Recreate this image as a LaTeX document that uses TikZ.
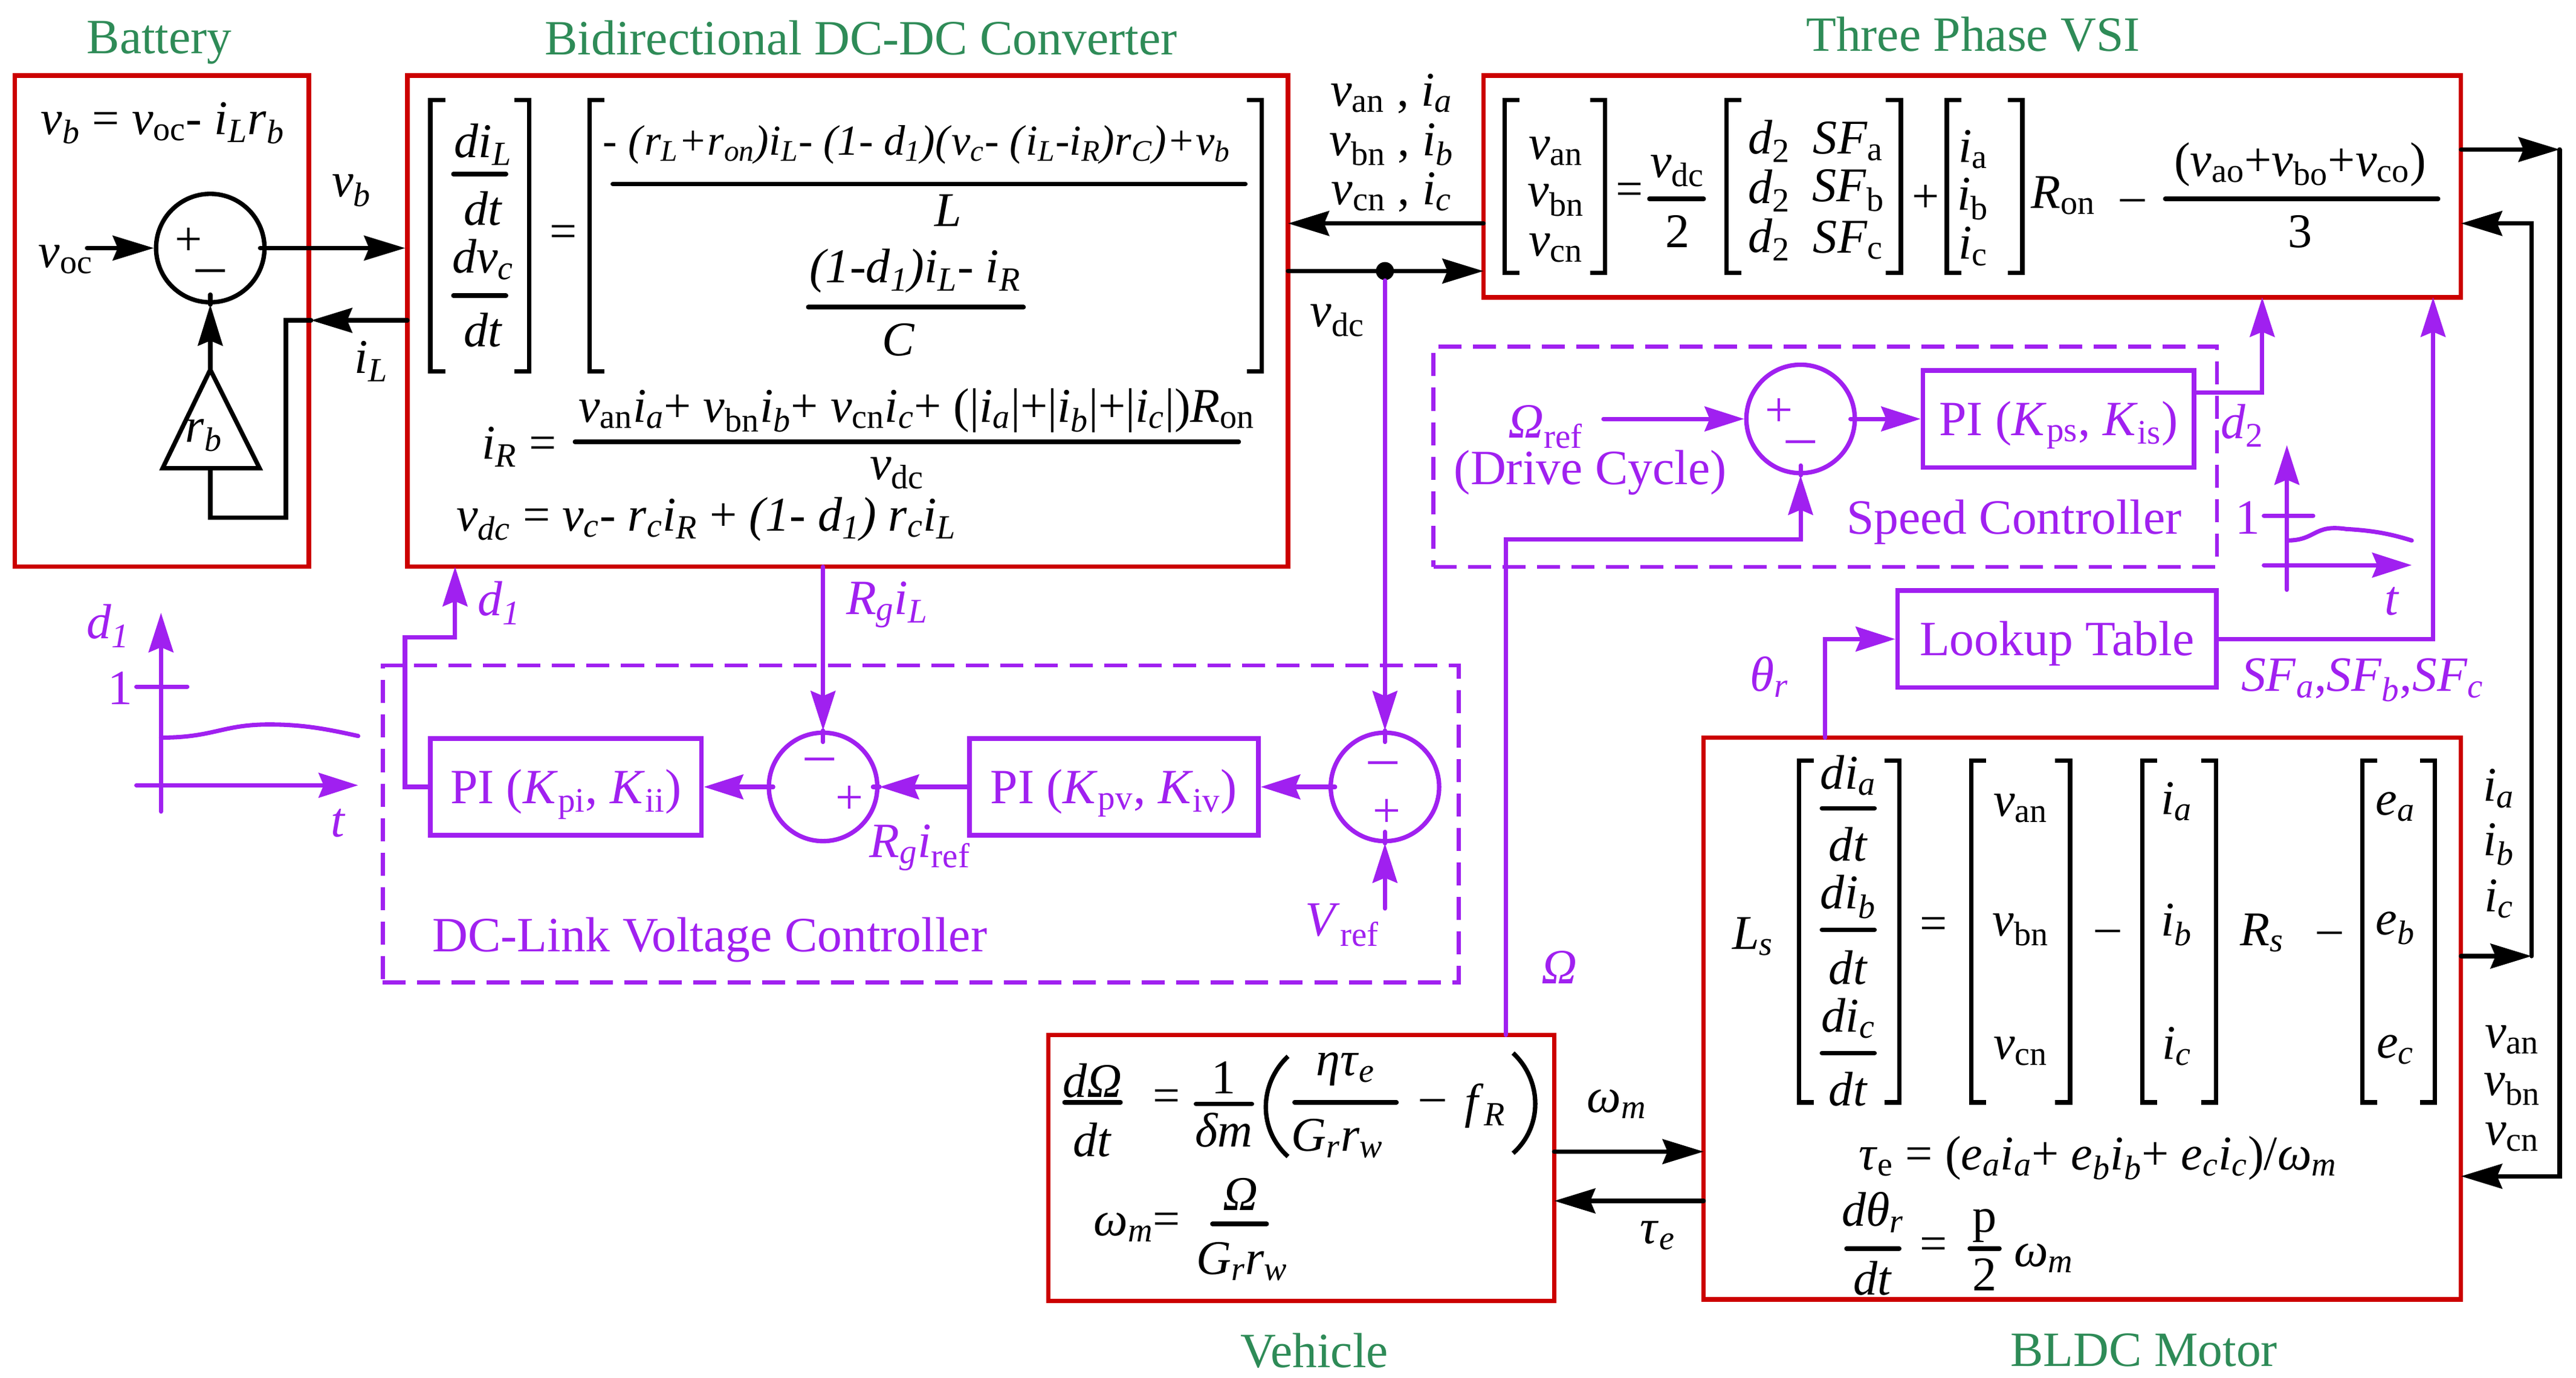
\documentclass[tikz,border=0pt]{standalone}
\usepackage{fontspec}
\setmainfont{Liberation Serif}
\usetikzlibrary{arrows.meta,positioning,calc}
\definecolor{boxred}{HTML}{CC0000}
\definecolor{ctrlpurple}{HTML}{A020F0}
\definecolor{titlegreen}{HTML}{2E8B57}
\tikzset{
  font={\fontsize{30pt}{32}\selectfont}}
% italic letter with italic or upright subscript
\newcommand{\isub}[2]{\textit{#1}\textsubscript{\textit{#2}}}
\newcommand{\rsub}[2]{\textit{#1}\textsubscript{#2}}
% plus and minus of a summing circle
\newcommand{\plusminus}{+\kern-4pt\raisebox{-17.8pt}{\fontsize{35pt}{36}\selectfont –}}
% text of a purple block, baseline below the centre of the block
\newcommand{\blocktext}[1]{\raisebox{-10pt}[0pt][0pt]{\textcolor{ctrlpurple}{#1}}}
% x1, x2, y1, y2 of a pair of matrix brackets
\newcommand{\brk}[4]{
  \draw[brk_line] (#1+9,#3) -- (#1,#3) -- (#1,#4) -- (#1+9,#4);
  \draw[brk_line] (#2-9,#3) -- (#2,#3) -- (#2,#4) -- (#2-9,#4);}

\begin{document}
\begin{tikzpicture}[x=1pt,y=-1pt,
    block_red/.style ={rectangle, draw=boxred, line width=2.7pt, fill=none, inner sep=0pt},
    block_purple/.style ={rectangle, draw=ctrlpurple, line width=2.8pt, fill=none, inner sep=0pt,
      text=ctrlpurple, minimum height=59pt},
    block_dash/.style ={rectangle, draw=ctrlpurple, line width=2.4pt, fill=none, inner sep=0pt,
      dash pattern=on 14pt off 7pt},
    sum_black/.style ={circle, draw=black, line width=2.7pt, minimum size=66pt, inner sep=0pt},
    sum_purple/.style ={circle, draw=ctrlpurple, line width=2.7pt, minimum size=66pt, inner sep=0pt},
    lab/.style ={inner sep=0pt, text=black, font={\fontsize{29.5pt}{32}\selectfont}},
    lab_small/.style ={inner sep=0pt, text=black, font={\fontsize{26pt}{28}\selectfont}},
    lab_purple/.style ={inner sep=0pt, text=ctrlpurple},
    lab_title/.style ={inner sep=0pt, text=titlegreen},
    sign_purple/.style ={inner sep=0pt, text=ctrlpurple, font={\fontsize{35pt}{36}\selectfont}},
    frac_bar/.style ={draw=black, line width=2.8pt, line cap=round},
    brk_line/.style ={draw=black, line width=2.7pt},
    paths2/.style={black, draw, line width=2.7pt, line cap=round,
      arrows={-Stealth[length=25pt, width=15pt, inset=3pt, black]}},
    paths3/.style={ctrlpurple, draw, line width=2.6pt, line cap=round,
      arrows={-Stealth[length=24pt, width=15pt, inset=3pt, ctrlpurple]}},
    wire_black/.style={black, draw, line width=2.7pt, line cap=round},
    wire_purple/.style={ctrlpurple, draw, line width=2.6pt, line cap=round}]
    \useasboundingbox (0,0) rectangle (1568,838.8);
    % titles
    \node[lab_title] (t_batt) at (97,26) {Battery};
    \node[lab_title] (t_conv) at (524,23) {Bidirectional DC-DC Converter};
    \node[lab_title] (t_vsi) at (1201,21) {Three Phase VSI};
    \node[lab_title] (t_veh) at (800,822) {Vehicle};
    \node[lab_title] (t_mot) at (1305,822) {BLDC Motor};
    % red blocks
    \node[block_red, minimum width=179pt, minimum height=299pt] (batt) at (98.5,195.5) {};
    \node[block_red, minimum width=536pt, minimum height=299pt] (conv) at (516,195.5) {};
    \node[block_red, minimum width=595pt, minimum height=135pt] (vsi) at (1200.5,113.5) {};
    \node[block_red, minimum width=308pt, minimum height=162pt] (veh) at (792,711) {};
    \node[block_red, minimum width=461pt, minimum height=342pt] (mot) at (1267.5,620) {};
    % battery
    \node[lab] (eq_vb) at (99,75) {\isub{v}{b} = \rsub{v}{oc}- \isub{i}{L}\isub{r}{b}};
    \node[sum_black] (sum0) at (128,151) {};
    \node[lab] (sum0_s) at (121.7,156) {\plusminus};
    \node[lab] (l_voc) at (40,158) {\rsub{v}{oc}};
    \coordinate (voc_in) at (53,151);
    \node[lab] (l_vb) at (214,116) {\isub{v}{b}};
    \node[lab] (l_il) at (226,220) {\isub{i}{L}};
    \coordinate (tri_top) at (128,225);
    \coordinate (tri_base) at (128,285);
    \draw[wire_black] (tri_top) -- (158,285) -- (99,285) -- cycle;
    \node[lab] (l_rb) at (124,265) {\isub{r}{b}};
    \coordinate (conv_vb) at (conv.west |- sum0.east);
    \coordinate (conv_il) at (248,195);
    \coordinate (il_turn) at (174,195);
    \coordinate (il_low) at (128,315);
    % converter
    \brk{262}{322}{61}{226}
    \node[lab] (c_di) at (294,88) {\textit{d}\isub{i}{L}};
    \draw[frac_bar] (276,106) -- (308,106);
    \node[lab] (c_dt1) at (294,127) {\textit{dt}};
    \node[lab] (c_dv) at (294,158) {\textit{d}\isub{v}{c}};
    \draw[frac_bar] (276,180) -- (308,180);
    \node[lab] (c_dt2) at (294,201) {\textit{dt}};
    \node[lab] (c_eq1) at (343,144) {=};
    \brk{359}{768}{61}{226}
    \node[lab_small] (c_n1) at (558,88) {\textit{- (}\isub{r}{L}\textit{+}\isub{r}{on}\textit{)}\isub{i}{L}\textit{- (1- }\isub{d}{1}\textit{)(}\isub{v}{c}\textit{- (}\isub{i}{L}\textit{-}\isub{i}{R}\textit{)}\isub{r}{C}\textit{)+}\isub{v}{b}};
    \draw[frac_bar] (373,112) -- (758,112);
    \node[lab] (c_l) at (577,128) {\textit{L}};
    \node[lab] (c_n2) at (557,165) {\textit{(1-}\isub{d}{1}\textit{)}\isub{i}{L}\textit{- }\isub{i}{R}};
    \draw[frac_bar] (492,187) -- (623,187);
    \node[lab] (c_c) at (547,207) {\textit{C}};
    \node[lab] (c_ir) at (316,272) {\isub{i}{R} =};
    \node[lab] (c_n3) at (558,250) {\rsub{v}{an}\isub{i}{a}+ \rsub{v}{bn}\isub{i}{b}+ \rsub{v}{cn}\isub{i}{c}+ (|\isub{i}{a}|+|\isub{i}{b}|+|\isub{i}{c}|)\rsub{R}{on}};
    \draw[frac_bar] (350,269) -- (754,269);
    \node[lab] (c_vdc) at (546,288) {\rsub{v}{dc}};
    \node[lab] (c_row) at (430,316) {\isub{v}{dc} = \isub{v}{c}- \isub{r}{c}\isub{i}{R} + \textit{(1- }\isub{d}{1}\textit{)} \isub{r}{c}\isub{i}{L}};
    % between converter and VSI
    \node[lab] (l_1) at (847,57) {\rsub{v}{an} , \isub{i}{a}};
    \node[lab] (l_2) at (847,88) {\rsub{v}{bn} , \isub{i}{b}};
    \node[lab] (l_3) at (847,117) {\rsub{v}{cn} , \isub{i}{c}};
    \node[lab] (l_vdc) at (814,195) {\rsub{v}{dc}};
    \coordinate (vsi_v) at (903,136);
    \coordinate (conv_v) at (784,136);
    \coordinate (conv_d) at (784,165);
    \coordinate (vsi_d) at (903,165);
    \node[circle, fill=black, inner sep=0pt, minimum size=11pt] (dot) at (843,165) {};
    % VSI
    \brk{916}{977}{61}{166}
    \node[lab] (v_1) at (947,92) {\rsub{v}{an}};
    \node[lab] (v_2) at (947,122) {\rsub{v}{bn}};
    \node[lab] (v_3) at (947,151) {\rsub{v}{cn}};
    \node[lab] (v_eq) at (992,118) {=};
    \node[lab] (v_vdc) at (1021,104) {\rsub{v}{dc}};
    \draw[frac_bar] (1004,121) -- (1037,121);
    \node[lab] (v_two) at (1021,141) {2};
    \brk{1051}{1157}{61}{166}
    \node[lab] (v_d1) at (1077,86) {\rsub{d}{2}};
    \node[lab] (v_d2) at (1077,116) {\rsub{d}{2}};
    \node[lab] (v_d3) at (1077,146) {\rsub{d}{2}};
    \node[lab] (v_s1) at (1125,86) {\rsub{SF}{a}};
    \node[lab] (v_s2) at (1125,116) {\rsub{SF}{b}};
    \node[lab] (v_s3) at (1125,146) {\rsub{SF}{c}};
    \node[lab] (v_pl) at (1172,121) {+};
    \brk{1185}{1231}{61}{166}
    \node[lab] (v_ia) at (1201,91) {\rsub{i}{a}};
    \node[lab] (v_ib) at (1201,121) {\rsub{i}{b}};
    \node[lab] (v_ic) at (1201,150) {\rsub{i}{c}};
    \node[lab] (v_r) at (1256,119) {\rsub{R}{on}};
    \node[lab] (v_mi) at (1298,125) {–};
    \node[lab] (v_n) at (1400,100) {(\rsub{v}{ao}+\rsub{v}{bo}+\rsub{v}{co})};
    \draw[frac_bar] (1318,121) -- (1484,121);
    \node[lab] (v_three) at (1400,141) {3};
    % speed controller
    \node[block_dash, minimum width=477pt, minimum height=134pt] (spd_box) at (1111,278) {};
    \node[sum_purple] (sum3) at (1096,255) {};
    \node[lab_purple] (sum3_s) at (1089.7,260) {\plusminus};
    \node[block_purple, minimum width=165pt] (pi_s) at (1253,255) {\blocktext{PI (\rsub{K}{ps}, \rsub{K}{is})}};
    \node[lab_purple, align=left, font={\fontsize{30pt}{25}\selectfont}] (l_wref) at (968,274) {\hspace{33pt}\rsub{Ω}{ref}\\(Drive Cycle)};
    \coordinate (wref_in) at (976,255);
    \node[lab_purple] (l_spd) at (1226,318) {Speed Controller};
    \node[lab_purple] (l_d2) at (1365,259) {\rsub{d}{2}};
    \coordinate (pi_s_out) at (pi_s.east |- 0,239);
    \coordinate (vsi_d2) at (1377,181);
    % d2 axes
    \coordinate (ax2_b) at (1392,359);
    \coordinate (ax2_t) at (1392,271);
    \coordinate (ax2_l) at (1378,344);
    \coordinate (ax2_r) at (1468,344);
    \node[lab_purple] (l_one2) at (1368,315) {1};
    \draw[wire_purple] (1378,314) -- (1408,314);
    \draw[wire_purple] (1392,329) .. controls (1410,329) and (1408,319) .. (1428,322) .. controls (1445,323) and (1455,325) .. (1468,329);
    \node[lab_purple] (l_t2) at (1456,366) {\textit{t}};
    % lookup table
    \node[block_purple, minimum width=194pt] (look) at (1252,389) {\blocktext{Lookup Table}};
    \node[lab_purple] (l_th) at (1077,412) {\isub{θ}{r}};
    \node[lab_purple] (l_sf) at (1438,414) {\isub{SF}{a},\isub{SF}{b},\isub{SF}{c}};
    \coordinate (vsi_sf) at (1481,181);
    \coordinate (mot_th) at (1111,449);
    % DC-link controller
    \node[block_dash, minimum width=655pt, minimum height=193pt] (dc_box) at (560.5,501.5) {};
    \node[sum_purple] (sum1) at (501,479) {};
    \node[sign_purple] (sum1_m) at (499,466) {–};
    \node[lab_purple] (sum1_p) at (517,487) {+};
    \node[sum_purple] (sum2) at (843,479) {};
    \node[sign_purple] (sum2_m) at (842,468) {–};
    \node[lab_purple] (sum2_p) at (844,495) {+};
    \node[block_purple, minimum width=165pt] (pi_i) at (344.5,479) {\blocktext{PI (\rsub{K}{pi}, \rsub{K}{ii})}};
    \node[block_purple, minimum width=176pt] (pi_v) at (678,479) {\blocktext{PI (\rsub{K}{pv}, \rsub{K}{iv})}};
    \node[lab_purple] (l_rgil) at (540,368) {\isub{R}{g}\isub{i}{L}};
    \node[lab_purple] (l_rgir) at (560,516) {\isub{R}{g}\rsub{i}{ref}};
    \node[lab_purple] (l_vref) at (817,563) {\rsub{V}{ref}};
    \coordinate (vref_in) at (843,553);
    \coordinate (conv_ril) at (501,345);
    \node[lab_purple] (l_dcl) at (432,572) {DC-Link Voltage Controller};
    \node[lab_purple] (l_d1) at (304,367) {\isub{d}{1}};
    \coordinate (d1_a) at (246.5,388);
    \coordinate (d1_b) at (277,345);
    % d1 axes
    \coordinate (ax1_b) at (98,494);
    \coordinate (ax1_t) at (98,373);
    \coordinate (ax1_l) at (83,478);
    \coordinate (ax1_r) at (218,478);
    \node[lab_purple] (l_d1a) at (66,381) {\isub{d}{1}};
    \node[lab_purple] (l_one1) at (73,419) {1};
    \draw[wire_purple] (83,418) -- (114,418);
    \draw[wire_purple] (98,449) .. controls (130,449) and (135,441) .. (164,441) .. controls (185,441) and (200,444) .. (218,448);
    \node[lab_purple] (l_t1) at (206,501) {\textit{t}};
    % vehicle
    \node[lab] (h_dw) at (665,658) {\textit{d}\textit{Ω}};
    \draw[frac_bar] (648,671) -- (682,671);
    \node[lab] (h_dt) at (665,694) {\textit{dt}};
    \node[lab] (h_eq) at (710,670) {=};
    \node[lab] (h_one) at (745,656) {1};
    \draw[frac_bar] (728,672) -- (762,672);
    \node[lab] (h_dm) at (745,688) {\textit{δm}};
    \draw[brk_line] (784,643) .. controls (766,660) and (766,688) .. (784,704);
    \node[lab] (h_n) at (819,651) {\textit{ητ}\textsubscript{\textit{e}}};
    \draw[frac_bar] (788,671) -- (850,671);
    \node[lab] (h_d) at (814,693) {\isub{G}{r}\isub{r}{w}};
    \node[lab] (h_mi) at (872,673) {–};
    \node[lab] (h_f) at (904,673) {\isub{f}{R}};
    \draw[brk_line] (921,641) .. controls (939,658) and (939,686) .. (921,702);
    \node[lab] (h_w) at (684,747) {\isub{ω}{m}};
    \node[lab] (h_eq2) at (710,745) {=};
    \node[lab] (h_om) at (755,727) {\textit{Ω}};
    \draw[frac_bar] (738,745) -- (771,745);
    \node[lab] (h_d2) at (756,768) {\isub{G}{r}\isub{r}{w}};
    \node[lab_purple] (l_om) at (949,589) {\textit{Ω}};
    \node[lab] (l_wm) at (984,672) {\isub{ω}{m}};
    \node[lab] (l_te) at (1009,752) {\isub{τ}{e}};
    \coordinate (veh_w) at (946,701);
    \coordinate (mot_w) at (1037,701);
    \coordinate (veh_t) at (946,731);
    \coordinate (mot_t) at (1037,731);
    \coordinate (veh_om) at (916.5,630);
    \coordinate (om_turn) at (1096,328.5);
    % motor
    \node[lab] (m_ls) at (1067,570) {\isub{L}{s}};
    \brk{1095}{1156}{463}{671}
    \node[lab] (m_a) at (1125,472) {\textit{d}\isub{i}{a}};
    \draw[frac_bar] (1109,492) -- (1141,492);
    \node[lab] (m_t1) at (1125,514) {\textit{dt}};
    \node[lab] (m_b) at (1125,546) {\textit{d}\isub{i}{b}};
    \draw[frac_bar] (1109,566) -- (1141,566);
    \node[lab] (m_t2) at (1125,589) {\textit{dt}};
    \node[lab] (m_c) at (1125,620) {\textit{d}\isub{i}{c}};
    \draw[frac_bar] (1109,641) -- (1141,641);
    \node[lab] (m_t3) at (1125,663) {\textit{dt}};
    \node[lab] (m_eq) at (1177,565) {=};
    \brk{1200}{1260}{463}{671}
    \node[lab] (m_v1) at (1230,492) {\rsub{v}{an}};
    \node[lab] (m_v2) at (1230,566) {\rsub{v}{bn}};
    \node[lab] (m_v3) at (1230,640) {\rsub{v}{cn}};
    \node[lab] (m_mi) at (1283,570) {–};
    \brk{1304}{1349}{463}{671}
    \node[lab] (m_ia) at (1325,488) {\isub{i}{a}};
    \node[lab] (m_ib) at (1325,563) {\isub{i}{b}};
    \node[lab] (m_ic) at (1325,637) {\isub{i}{c}};
    \node[lab] (m_rs) at (1377,568) {\isub{R}{s}};
    \node[lab] (m_mi2) at (1418,571) {–};
    \brk{1438}{1482}{463}{671}
    \node[lab] (m_ea) at (1458,491) {\isub{e}{a}};
    \node[lab] (m_eb) at (1458,565) {\isub{e}{b}};
    \node[lab] (m_ec) at (1458,639) {\isub{e}{c}};
    \node[lab] (m_te) at (1277,705) {\rsub{τ}{e} = (\isub{e}{a}\isub{i}{a}+ \isub{e}{b}\isub{i}{b}+ \isub{e}{c}\isub{i}{c})/\isub{ω}{m}};
    \node[lab] (m_dth) at (1140,738) {\textit{d}\isub{θ}{r}};
    \draw[frac_bar] (1124,760) -- (1156,760);
    \node[lab] (m_dt) at (1140,778) {\textit{dt}};
    \node[lab] (m_eq2) at (1177,760) {=};
    \node[lab] (m_p) at (1208,746) {p};
    \draw[frac_bar] (1199,760) -- (1217,760);
    \node[lab] (m_two) at (1208,776) {2};
    \node[lab] (m_wm) at (1244,766) {\isub{ω}{m}};
    % right hand labels
    \node[lab] (r_ia) at (1521,480) {\isub{i}{a}};
    \node[lab] (r_ib) at (1521,514) {\isub{i}{b}};
    \node[lab] (r_ic) at (1521,547) {\isub{i}{c}};
    \node[lab] (r_va) at (1529,633) {\rsub{v}{an}};
    \node[lab] (r_vb) at (1529,663) {\rsub{v}{bn}};
    \node[lab] (r_vc) at (1529,692) {\rsub{v}{cn}};
    \coordinate (vsi_out) at (1498,91);
    \coordinate (out_c) at (1558,91);
    \coordinate (mot_in) at (1498,716);
    \coordinate (mot_out) at (1498,582);
    \coordinate (back_c) at (1541,582);
    \coordinate (vsi_in) at (1498,136);
    % connecting nodes with paths
    \begin{scope}[every path/.style=paths2]
      \path(voc_in)--(sum0.west);
      \path(sum0.east)--(conv_vb);
      \path(tri_top)--(sum0.south);
      \path(vsi_v)--(conv_v);
      \path(conv_d)--(vsi_d);
      \path(veh_w)--(mot_w);
      \path(mot_t)--(veh_t);
      \path(vsi_out)--(out_c);
      \path(mot_out)--(back_c);
      \path(back_c)|-(vsi_in);
      \path(out_c)|-(mot_in);
      \path(conv_il)--(batt.east |- conv_il);
    \end{scope}
    \begin{scope}[every path/.style=wire_black]
      \path(tri_base)--(il_low)-|(il_turn)--(batt.east |- il_turn);
      \path(sum0.south)--++(0,-6);
      \path(sum0.east)--++(-4,0);
    \end{scope}
    \begin{scope}[every path/.style=paths3]
      \path(wref_in)--(sum3.west);
      \path(sum3.east)--(pi_s.west);
      \path(pi_s_out)-|(vsi_d2);
      \path(look.east)-|(vsi_sf);
      \path(dot)--(sum2.north);
      \path(sum2.west)--(pi_v.east);
      \path(pi_v.west)--(sum1.east);
      \path(sum1.west)--(pi_i.east);
      \path(conv_ril)--(sum1.north);
      \path(vref_in)--(sum2.south);
      \path(pi_i.west)-|(d1_a)-|(d1_b);
      \path(veh_om)|-(om_turn)--(sum3.south);
      \path(mot_th)|-(look.west);
      \path(ax2_b)--(ax2_t);
      \path(ax2_l)--(ax2_r);
      \path(ax1_b)--(ax1_t);
      \path(ax1_l)--(ax1_r);
    \end{scope}
    \begin{scope}[every path/.style=wire_purple]
      \path(sum1.north)--++(0,7);
      \path(sum2.north)--++(0,7);
      \path(sum2.south)--++(0,-7);
      \path(sum1.west)--++(4,0);
      \path(sum1.east)--++(-4,0);
      \path(sum2.west)--++(4,0);
      \path(sum3.east)--++(-4,0);
      \path(sum3.south)--++(0,-6);
    \end{scope}
  \end{tikzpicture}
\end{document}
